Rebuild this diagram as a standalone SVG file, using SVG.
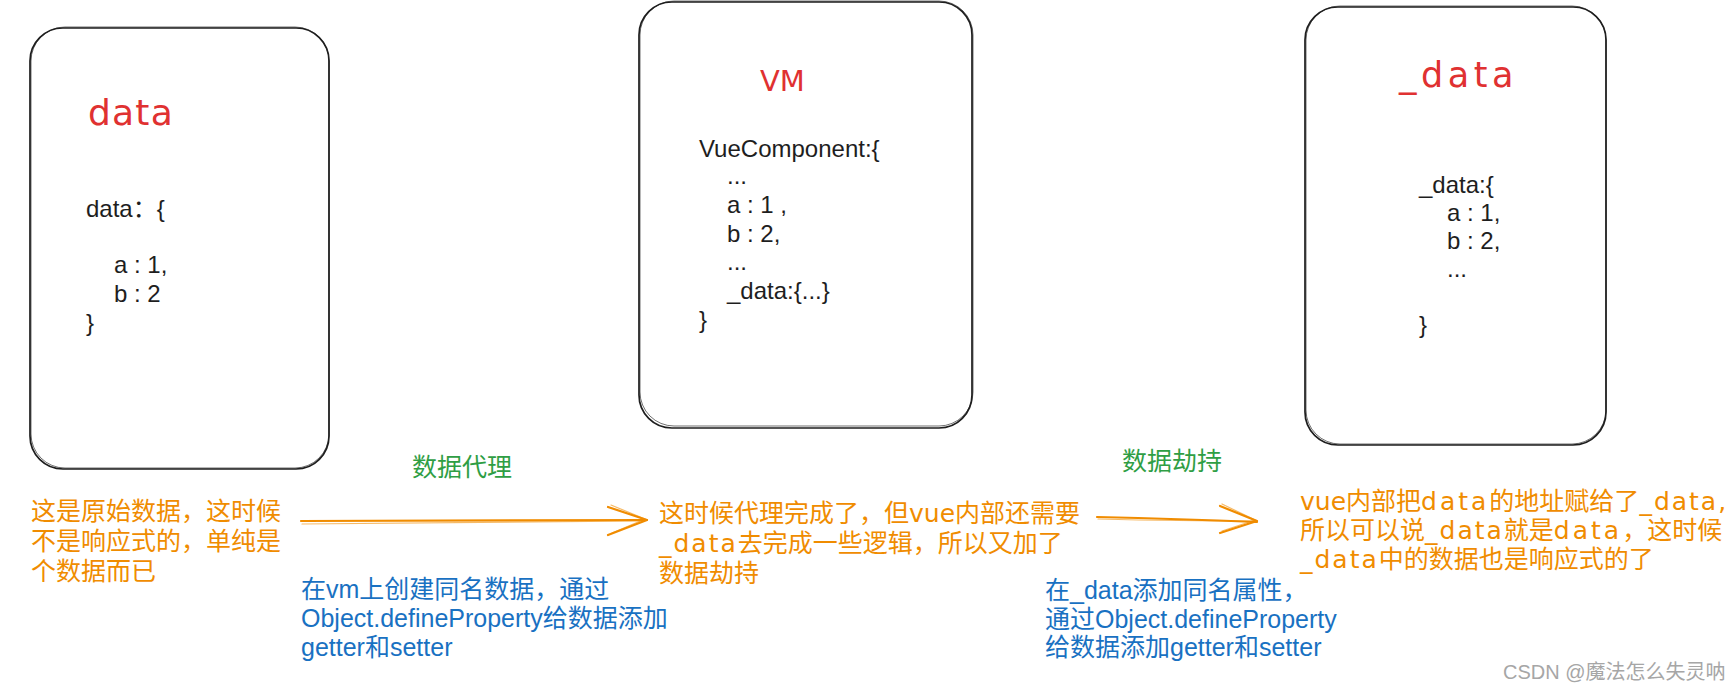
<svg xmlns="http://www.w3.org/2000/svg" width="1728" height="691" viewBox="0 0 1728 691">
<defs>
<style>
text{font-family:"Liberation Sans","Noto Sans CJK SC",sans-serif;}
.box{fill:#ffffff;stroke:#1e1e1e;stroke-width:1.7;}
.box2{fill:none;stroke:#1e1e1e;stroke-width:0.9;opacity:0.7;}
.code{font-size:24px;fill:#1e1e1e;}
.title{fill:#e03131;font-family:"DejaVu Sans","Noto Sans CJK SC",sans-serif;}
.orange{font-size:25px;fill:#f08c00;}
.blue{font-size:25px;fill:#1971c2;}
.green{font-size:25px;fill:#2f9e44;}
.arrow{fill:none;stroke:#f08c00;stroke-width:2.2;stroke-linecap:round;stroke-linejoin:round;}
.arrow2{fill:none;stroke:#f08c00;stroke-width:1.2;stroke-linecap:round;opacity:0.6;}
.hw{font-family:"DejaVu Sans","Noto Sans CJK SC",sans-serif;}
.hdata{letter-spacing:3px;}
.h_data{letter-spacing:2px;}
.wm{font-size:20px;fill:#a6a6a6;}
</style>
</defs>
<rect width="1728" height="691" fill="#ffffff"/>

<g id="node-data">
<rect class="box" x="30" y="28" width="299" height="441" rx="33"/>
<rect class="box2" x="31" y="27" width="298" height="441" rx="34"/>
<text class="title" x="88" y="125" font-size="36" letter-spacing="1.2">data</text>
<text class="code" x="86" y="217">data：{</text>
<text class="code" x="114" y="273">a : 1,</text>
<text class="code" x="114" y="302">b : 2</text>
<text class="code" x="86" y="331">}</text>
</g>

<g id="node-vm">
<rect class="box" x="639" y="2" width="333" height="426" rx="33"/>
<rect class="box2" x="640" y="1" width="333" height="425" rx="34"/>
<text class="title" x="760" y="91" font-size="29">VM</text>
<text class="code" x="699" y="157">VueComponent:{</text>
<text class="code" x="727" y="184">...</text>
<text class="code" x="727" y="213">a : 1 ,</text>
<text class="code" x="727" y="242">b : 2,</text>
<text class="code" x="727" y="270">...</text>
<text class="code" x="727" y="299">_data:{...}</text>
<text class="code" x="699" y="328">}</text>
</g>

<g id="node-_data">
<rect class="box" x="1305" y="7" width="301" height="438" rx="33"/>
<rect class="box2" x="1306" y="6" width="300" height="438" rx="34"/>
<text class="title" x="1399" y="87" font-size="35" letter-spacing="4.5">_data</text>
<text class="code" x="1419" y="193">_data:{</text>
<text class="code" x="1447" y="221">a : 1,</text>
<text class="code" x="1447" y="249">b : 2,</text>
<text class="code" x="1447" y="277">...</text>
<text class="code" x="1419" y="333">}</text>
</g>

<g id="connectors">
<path class="arrow" d="M301 521 Q 470 520 647 520"/>
<path class="arrow2" d="M302 524 Q 480 522 644 521"/>
<path class="arrow" d="M608 507 L647 520 L608 535"/>
<path class="arrow2" d="M611 505 L645 519 L612 533"/>
<path class="arrow" d="M1097 517 Q 1180 519 1257 522"/>
<path class="arrow2" d="M1098 519 Q 1180 521 1254 521"/>
<path class="arrow" d="M1220 506 L1257 521 L1220 533"/>
<path class="arrow2" d="M1222 504 L1255 520 L1222 531"/>
</g>

<g id="label-proxy">
<text class="green" x="412" y="476">数据代理</text>
</g>
<g id="label-hijack">
<text class="green" x="1122" y="470">数据劫持</text>
</g>

<g id="note-original">
<text class="orange" x="31" y="520">这是原始数据，这时候</text>
<text class="orange" x="31" y="550">不是响应式的，单纯是</text>
<text class="orange" x="31" y="580">个数据而已</text>
</g>

<g id="note-proxy">
<text class="orange" x="659" y="522">这时候代理完成了，但<tspan class="hw">vue</tspan>内部还需要</text>
<text class="orange" x="659" y="552"><tspan class="hw h_data">_data</tspan>去完成一些逻辑，所以又加了</text>
<text class="orange" x="659" y="582">数据劫持</text>
</g>

<g id="note-result">
<text class="orange" x="1300" y="510" font-size="24"><tspan class="hw">vue</tspan>内部把<tspan class="hw hdata">data</tspan>的地址赋给了<tspan class="hw h_data">_data</tspan><tspan class="hw">,</tspan></text>
<text class="orange" x="1300" y="539" font-size="24">所以可以说<tspan class="hw h_data">_data</tspan>就是<tspan class="hw hdata">data</tspan>，这时候</text>
<text class="orange" x="1300" y="568" font-size="24"><tspan class="hw h_data">_data</tspan>中的数据也是响应式的了</text>
</g>

<g id="desc-proxy">
<text class="blue" x="301" y="598">在vm上创建同名数据，通过</text>
<text class="blue" x="301" y="627">Object.defineProperty给数据添加</text>
<text class="blue" x="301" y="656">getter和setter</text>
</g>

<g id="desc-hijack">
<text class="blue" x="1045" y="599">在_data添加同名属性，</text>
<text class="blue" x="1045" y="628">通过Object.defineProperty</text>
<text class="blue" x="1045" y="656">给数据添加getter和setter</text>
</g>

<g id="watermark">
<text class="wm" x="1503" y="679">CSDN @魔法怎么失灵呐</text>
</g>
</svg>
